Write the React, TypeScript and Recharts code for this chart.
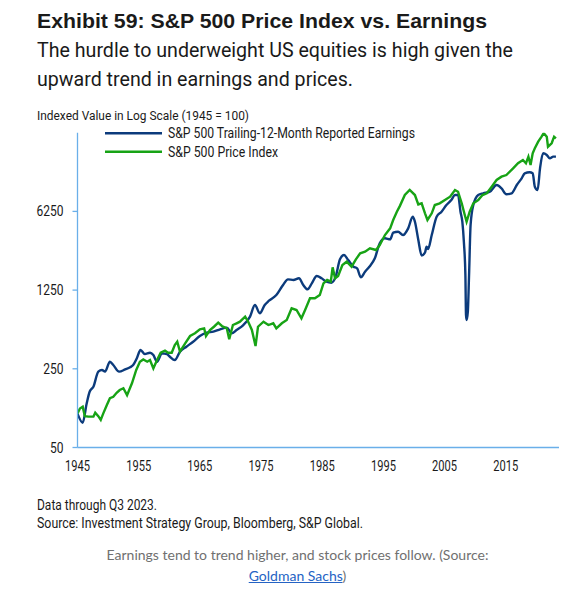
import React from 'react';
import { LineChart, Line, XAxis, YAxis, Legend } from 'recharts';

// S&P 500 trailing-12-month reported earnings, indexed 1945 = 100
const EARN_YEARS = [
  1945, 1945.85, 1946.5, 1947, 1947.6, 1948.4, 1949, 1949.5, 1950.3, 1950.85,
  1951.8, 1952.8, 1953.6, 1954.1, 1954.7, 1955.3, 1956, 1956.85, 1957.4, 1958,
  1958.8, 1959.6, 1960.1, 1960.9, 1961.75, 1962.8, 1963.9, 1965, 1966.1, 1967.2,
  1968.3, 1969.4, 1970.2, 1971, 1972.1, 1973.2, 1974, 1974.8, 1975.6, 1976.3,
  1977.5, 1978.6, 1979.4, 1980.3, 1981.2, 1981.9, 1982.6, 1983.3, 1984.1, 1984.9,
  1985.7, 1986.5, 1987.2, 1987.9, 1988.55, 1989.25, 1990.1, 1990.7, 1991.3, 1992,
  1992.7, 1993.6, 1994.4, 1995.25, 1996.1, 1996.6, 1997.4, 1998.2, 1999.05, 1999.8,
  2000.15, 2000.7, 2001.25, 2001.8, 2002.05, 2002.3, 2002.9, 2003.7, 2004.5, 2005.3,
  2006.1, 2006.7, 2007.2, 2007.6, 2007.9, 2008.15, 2008.4, 2008.5, 2008.6, 2008.8,
  2009, 2009.25, 2009.7, 2010.5, 2011.3, 2012.4, 2013.5, 2014.3, 2015.1, 2015.95,
  2016.8, 2017.6, 2018.1, 2018.9, 2019.4, 2019.75, 2020.2, 2020.6, 2021.1, 2021.7,
  2022.2, 2022.75, 2023.2,
];
const EARN_VALUES = [
  100, 83, 123, 157, 173, 236, 244, 236, 289, 270,
  236, 247, 258, 270, 310, 367, 338, 347, 331, 289,
  343, 338, 320, 299, 355, 393, 435, 489, 523, 534,
  561, 580, 517, 553, 612, 726, 922, 778, 922, 1006,
  1130, 1387, 1558, 1537, 1591, 1387, 1270, 1436, 1667, 1591,
  1484, 1454, 1644, 2346, 2562, 2313, 2017, 1952, 1624, 1821,
  2017, 2395, 3256, 3605, 3531, 4041, 4126, 3855, 4420, 5608,
  5060, 3500, 2536, 2697, 3036, 2897, 3855, 5608, 6210, 7124,
  7888, 8737, 8737, 6210, 5060, 3362, 1702, 751, 678, 803,
  1702, 4731, 7124, 8737, 9048, 9350, 10720, 10020, 8870, 9048,
  10720, 12300, 13620, 13900, 13620, 10360, 9680, 15080, 20500, 19800,
  18500, 19140, 19140,
];

// S&P 500 price index, indexed 1945 = 100
const PRICE_YEARS = [
  1945, 1945.4, 1945.85, 1946.2, 1946.8, 1947.6, 1947.9, 1948.4, 1948.8, 1949.2,
  1949.8, 1950.3, 1950.85, 1951.4, 1951.9, 1952.5, 1953.1, 1953.9, 1954.6, 1955.2,
  1955.75, 1956.4, 1956.85, 1957.4, 1958, 1958.6, 1959.3, 1959.8, 1960.4, 1960.9,
  1961.3, 1961.75, 1962.6, 1963.4, 1964.2, 1965, 1965.7, 1966, 1966.65, 1967.3,
  1968, 1968.6, 1969.4, 1969.8, 1970.4, 1971, 1971.55, 1972.4, 1972.9, 1973.5,
  1974.1, 1974.5, 1975.4, 1976.2, 1977, 1977.5, 1978.4, 1979.2, 1980, 1980.8,
  1981.6, 1982.2, 1983, 1983.8, 1984.6, 1985.2, 1985.8, 1986.4, 1986.7, 1987.1,
  1987.6, 1988.3, 1989, 1989.8, 1990.5, 1991.2, 1992, 1992.8, 1993.8, 1994.4,
  1995.25, 1996.1, 1996.6, 1997.2, 1997.7, 1998.5, 1999.3, 2000.15, 2000.7, 2001.25,
  2001.8, 2002.2, 2002.9, 2003.4, 2004.2, 2005.05, 2005.9, 2006.7, 2007.2, 2007.8,
  2008.3, 2008.6, 2009.1, 2009.7, 2010.5, 2011.2, 2011.9, 2012.7, 2013.5, 2014.3,
  2015.1, 2016.2, 2017, 2017.8, 2018.3, 2018.7, 2019.05, 2019.4, 2019.75, 2020.3,
  2020.85, 2021.2, 2021.7, 2021.9, 2022.5, 2022.9, 2023.2,
];
const PRICE_VALUES = [
  100, 111, 115, 95, 94, 94, 102, 95, 88, 100,
  119, 137, 141, 153, 162, 168, 146, 186, 244, 289,
  303, 289, 299, 252, 299, 347, 362, 347, 347, 407,
  435, 355, 421, 489, 517, 561, 572, 489, 553, 591,
  642, 600, 572, 457, 612, 634, 655, 726, 655, 553,
  398, 591, 655, 612, 634, 572, 634, 678, 861, 832,
  702, 832, 1057, 1057, 1130, 1436, 1537, 1484, 1992, 1591,
  1667, 2088, 2234, 2017, 2346, 2653, 2742, 2938, 2838, 3143,
  3855, 4420, 5241, 6210, 7000, 8737, 9680, 8737, 7200, 7375,
  6010, 5241, 6010, 7124, 7375, 7888, 8440, 9680, 9350, 7375,
  5802, 5060, 6210, 7375, 7888, 8737, 9048, 10360, 11880, 12710,
  13150, 15080, 16720, 17880, 16720, 19140, 16140, 20500, 22700, 26000,
  28800, 31000, 28800, 23460, 25170, 28800, 27870,
];

const X_TICKS = [1945, 1955, 1965, 1975, 1985, 1995, 2005, 2015];
const Y_TICKS = [50, 250, 1250, 6250];
const SERIES_NAMES = ['S&P 500 Trailing-12-Month Reported Earnings', 'S&P 500 Price Index'];

const earnings = EARN_YEARS.map((year, i) => ({ year, value: EARN_VALUES[i] }));
const price = PRICE_YEARS.map((year, i) => ({ year, value: PRICE_VALUES[i] }));

const BLUE = '#0c3b7c';
const GREEN = '#17a315';
const AXIS = '#6aafe9';
const INK = '#1a1a1a';
// the source uses a condensed grotesque; Roboto squeezed with textLength stands in
const COND = 'Roboto, sans-serif';

// squeezed text helper: width is the measured width in the reference
const Squeezed = ({ x, y, width, size, children, anchor = 'start', weight = 400, family = COND }: any) => (
  <text
    x={x}
    y={y}
    fontFamily={family}
    fontSize={size}
    fontWeight={weight}
    fill={INK}
    textAnchor={anchor}
    textLength={width}
    lengthAdjust="spacingAndGlyphs"
  >
    {children}
  </text>
);

const XTick = ({ x, y, payload }: any) => (
  <Squeezed x={x} y={y + 10.2} width={25} size={14} anchor="middle">
    {payload.value}
  </Squeezed>
);

const YTick = ({ x, y, payload }: any) => {
  const label = String(payload.value);
  return (
    <Squeezed x={x} y={y + 5} width={label.length * 6.75} size={14} anchor="end">
      {label}
    </Squeezed>
  );
};

const LEGEND_WIDTHS = [247, 110];

const renderLegend = () => (
  <svg width={566} height={170} style={{ display: 'block' }}>
    {SERIES_NAMES.map((name, i) => (
      <g key={name}>
        <line x1={105} x2={162} y1={133.3 + i * 18.4} y2={133.3 + i * 18.4} stroke={i === 0 ? BLUE : GREEN} strokeWidth={2.4} />
        <Squeezed x={168} y={138.3 + i * 18.4} width={LEGEND_WIDTHS[i]} size={14}>
          {name}
        </Squeezed>
      </g>
    ))}
  </svg>
);

export default function App() {
  return (
    <div style={{ position: 'absolute', left: 0, top: 0, width: 566, height: 594, background: '#fff', color: INK }}>
      <div style={{ position: 'absolute', left: 0, top: 0 }}>
        <LineChart width={566} height={480} margin={{ top: 132.7, right: 7, bottom: 2.5, left: 0 }}>
          <XAxis
            type="number"
            dataKey="year"
            domain={[1945, 2023.7]}
            ticks={X_TICKS}
            interval={0}
            allowDataOverflow
            tickLine={false}
            tickSize={0}
            tickMargin={13}
            height={30}
            axisLine={{ stroke: AXIS, strokeWidth: 1.3 }}
            tick={<XTick />}
          />
          <YAxis
            scale="log"
            domain={[50, 31250]}
            ticks={Y_TICKS}
            interval={0}
            allowDataOverflow
            width={77.5}
            tickSize={5}
            tickMargin={9}
            axisLine={{ stroke: AXIS, strokeWidth: 1.3 }}
            tickLine={{ stroke: AXIS, strokeWidth: 1.3 }}
            tick={<YTick />}
          />
          <Legend
            layout="vertical"
            align="center"
            verticalAlign="middle"
            content={renderLegend}
            wrapperStyle={{ top: 0, left: 0, width: 566, height: 170, pointerEvents: 'none' }}
          />
          <Line
            data={earnings}
            dataKey="value"
            name={SERIES_NAMES[0]}
            type="monotone"
            stroke={BLUE}
            strokeWidth={2.4}
            dot={false}
            isAnimationActive={false}
          />
          <Line
            data={price}
            dataKey="value"
            name={SERIES_NAMES[1]}
            type="linear"
            stroke={GREEN}
            strokeWidth={2.4}
            dot={false}
            isAnimationActive={false}
          />
        </LineChart>
      </div>

      <svg width={566} height={594} style={{ position: 'absolute', left: 0, top: 0, pointerEvents: 'none' }}>
        <Squeezed x={37} y={28} width={450} size={20.5} weight={700} family="'Liberation Sans', Arial, sans-serif">
          Exhibit 59: S&amp;P 500 Price Index vs. Earnings
        </Squeezed>
        <Squeezed x={37} y={57.3} width={476} size={20.5}>
          The hurdle to underweight US equities is high given the
        </Squeezed>
        <Squeezed x={37} y={85.6} width={316} size={20.5}>
          upward trend in earnings and prices.
        </Squeezed>
        <Squeezed x={37} y={120} width={212} size={12.5}>
          Indexed Value in Log Scale (1945 = 100)
        </Squeezed>
        <Squeezed x={37} y={510} width={120} size={14}>
          Data through Q3 2023.
        </Squeezed>
        <Squeezed x={37} y={528.3} width={326} size={14}>
          Source: Investment Strategy Group, Bloomberg, S&amp;P Global.
        </Squeezed>
      </svg>

      <div style={{ position: 'absolute', left: 47.5, width: 500, top: 544, textAlign: 'center', fontFamily: 'Lato, sans-serif', fontSize: 14, lineHeight: '21px', color: '#707070' }}>
        Earnings tend to trend higher, and stock prices follow. (Source:
        <br />
        <span style={{ color: '#2563c4', textDecoration: 'underline' }}>Goldman Sachs</span>)
      </div>
    </div>
  );
}
